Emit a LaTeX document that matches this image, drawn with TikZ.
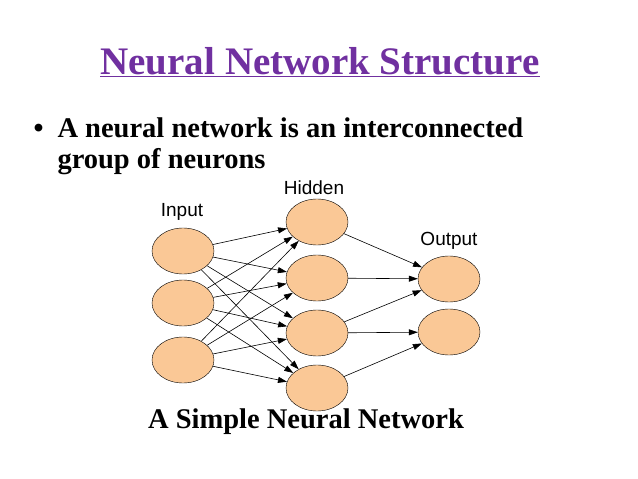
\documentclass[tikz,border=0pt]{standalone}
\usepackage{fontspec}
\setmainfont{Liberation Serif}
\newfontfamily\labelfont{Liberation Sans}
\usetikzlibrary{shapes.geometric,arrows.meta}
\definecolor{titlepurple}{RGB}{112,48,160}
\definecolor{neuronfill}{RGB}{250,200,150}
\begin{document}
\begin{tikzpicture}[x=1pt,y=-1pt,
    neuron/.style={ellipse,draw,fill=neuronfill,minimum width=62pt,minimum height=46pt,inner sep=0pt},
    layer label/.style={font=\labelfont\fontsize{19}{22}\selectfont},
    link/.style={-{Triangle[length=9pt,width=6pt]},semithick}]
\useasboundingbox (0,0) rectangle (638,479);
\node[font=\bfseries\fontsize{39}{44}\selectfont,text=titlepurple] (title) at (320,62) {\underline{Neural Network Structure}};
\node[anchor=west,font=\bfseries\fontsize{28.5}{31}\selectfont,align=left] (bullet) at (30,146)
  {\textbullet\hspace{14pt}A neural network is an interconnected\\\phantom{\textbullet}\hspace{14pt}group of neurons};
% layers
\foreach \y [count=\i] in {251,303,360}
  \node[neuron] (in\i) at (183,\y) {};
\foreach \y [count=\i] in {222,278,333,388}
  \node[neuron] (hid\i) at (317,\y) {};
\foreach \y [count=\i] in {279,332}
  \node[neuron] (out\i) at (449,\y) {};
\node[layer label] (inlabel) at (182,212) {Input};
\node[layer label] (hidlabel) at (314,188) {Hidden};
\node[layer label] (outlabel) at (449,241) {Output};
% connections
\foreach \i in {1,2,3}
  \foreach \j in {1,...,4}
    \draw[link] (in\i) -- (hid\j);
\draw[link] (hid1) -- (out1);
\draw[link] (hid2) -- (out1);
\draw[link] (hid3) -- (out1);
\draw[link] (hid3) -- (out2);
\draw[link] (hid4) -- (out2);
\node[font=\bfseries\fontsize{28.5}{31}\selectfont] (caption) at (306,422) {A Simple Neural Network};
\end{tikzpicture}
\end{document}
